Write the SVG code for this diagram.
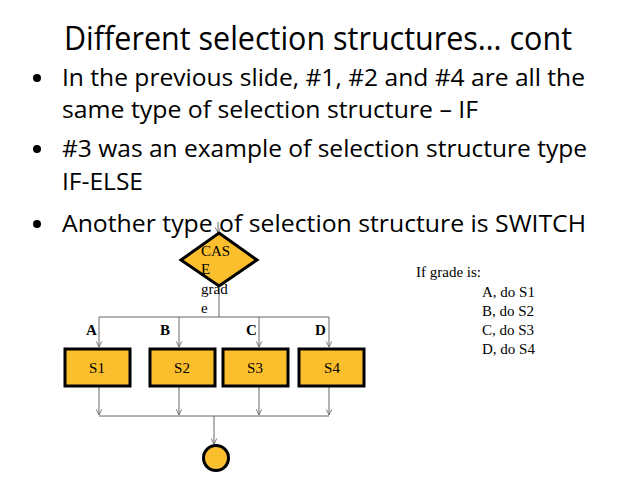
<svg xmlns="http://www.w3.org/2000/svg" width="638" height="478" viewBox="0 0 638 478">
<style>
.t{font-family:"Open Sans","Liberation Sans",sans-serif;fill:#000}
.b{font-size:24px}
.s{font-family:"Liberation Serif",serif;font-size:15px;fill:#000}
.n{fill:#fbbf2d;stroke:#000;stroke-width:3}
.c{stroke:#666;stroke-width:1;fill:none}
</style>
<defs><marker id="a" viewBox="0 0 10 10" refX="9" refY="5" markerWidth="7" markerHeight="7" orient="auto"><path d="M1,1 L9,5 L1,9" fill="none" stroke="#666" stroke-width="1.2"/></marker></defs>
<rect width="638" height="478" fill="#fff"/>
<text class="t" x="64" y="50" font-size="32" textLength="508" lengthAdjust="spacingAndGlyphs">Different selection structures… cont</text>
<g class="t b">
<circle cx="37" cy="78" r="4" fill="#000"/><text x="62" y="86" textLength="523" lengthAdjust="spacingAndGlyphs">In the previous slide, #1, #2 and #4 are all the</text>
<text x="62" y="118" textLength="416" lengthAdjust="spacingAndGlyphs">same type of selection structure – IF</text>
<circle cx="37" cy="149" r="4" fill="#000"/><text x="62" y="157" textLength="525" lengthAdjust="spacingAndGlyphs">#3 was an example of selection structure type</text>
<text x="62" y="190" textLength="81" lengthAdjust="spacingAndGlyphs">IF-ELSE</text>
<circle cx="37" cy="224" r="4" fill="#000"/><text x="62" y="232" textLength="524" lengthAdjust="spacingAndGlyphs">Another type of selection structure is SWITCH</text>
</g>
<g id="connectors" class="c">
<line x1="218" y1="222" x2="218" y2="233" marker-end="url(#a)"/>
<line x1="219" y1="286" x2="219" y2="317"/>
<line x1="99" y1="317" x2="329" y2="317"/>
<line x1="99" y1="317" x2="99" y2="347" marker-end="url(#a)"/>
<line x1="179" y1="317" x2="179" y2="347" marker-end="url(#a)"/>
<line x1="259" y1="317" x2="259" y2="347" marker-end="url(#a)"/>
<line x1="329" y1="317" x2="329" y2="347" marker-end="url(#a)"/>
<line x1="99" y1="387" x2="99" y2="415" marker-end="url(#a)"/>
<line x1="179" y1="387" x2="179" y2="415" marker-end="url(#a)"/>
<line x1="259" y1="387" x2="259" y2="415" marker-end="url(#a)"/>
<line x1="329" y1="387" x2="329" y2="415" marker-end="url(#a)"/>
<line x1="99" y1="416" x2="329" y2="416"/>
<line x1="214" y1="416" x2="214" y2="444" marker-end="url(#a)"/>
</g>
<g id="case"><polygon class="n" points="219,233 257,260 219,286 181,260"/>
<text class="s" x="201" y="256">CAS</text><text class="s" x="201" y="274">E</text><text class="s" x="201" y="294">grad</text><text class="s" x="201" y="313">e</text></g>
<g class="s" font-weight="bold" font-size="14"><text x="86" y="335">A</text><text x="160" y="335">B</text><text x="246" y="335">C</text><text x="315" y="335">D</text></g>
<g id="S1"><rect class="n" x="65" y="349" width="65" height="37"/><text class="s" x="97" y="373" text-anchor="middle">S1</text></g>
<g id="S2"><rect class="n" x="150" y="349" width="65" height="37"/><text class="s" x="182" y="373" text-anchor="middle">S2</text></g>
<g id="S3"><rect class="n" x="223" y="349" width="65" height="37"/><text class="s" x="255" y="373" text-anchor="middle">S3</text></g>
<g id="S4"><rect class="n" x="299" y="349" width="65" height="37"/><text class="s" x="332" y="373" text-anchor="middle">S4</text></g>
<g id="end"><circle class="n" cx="216" cy="458" r="12.5"/></g>
<g class="s"><text x="416" y="277">If grade is:</text><text x="482" y="297">A, do S1</text><text x="482" y="316">B, do S2</text><text x="482" y="335">C, do S3</text><text x="482" y="354">D, do S4</text></g>
</svg>
